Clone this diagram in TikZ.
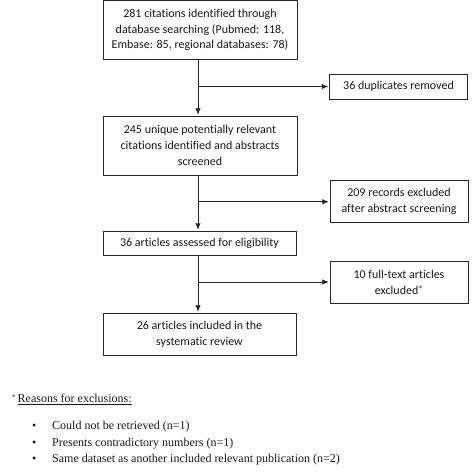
\documentclass[tikz,border=0pt]{standalone}
\usepackage{fontspec}
\setmainfont{Liberation Serif}
\newfontfamily\boxfont[Ligatures={NoCommon}]{Carlito}
\usetikzlibrary{arrows.meta}
\begin{document}
\begin{tikzpicture}[x=1pt,y=-1pt,
  flowbox/.style={draw=black!85, line width=0.9pt, inner sep=0pt, align=center,
    font=\boxfont\fontsize{12}{15.8}\selectfont, text=black!90},
  arr/.style={draw=black!85, line width=0.8pt, -{Latex[length=6.5pt,width=5.5pt]}, shorten >=0.8pt},
  foot/.style={anchor=west, inner sep=0pt, font=\fontsize{12}{14}\selectfont, text=black!90}]
\useasboundingbox (0,0) rectangle (474,474);
\fill[white] (0,0) rectangle (474,474);
\node[flowbox, minimum width=194pt, minimum height=59pt] (b1) at (200,30)
  {281 citations identified through\\database searching (Pubmed: 118,\\Embase: 85, regional databases: 78)};
\node[flowbox, minimum width=194pt, minimum height=59pt] (b2) at (200,145.5)
  {245 unique potentially relevant\\citations identified and abstracts\\screened};
\node[flowbox, minimum width=138pt, minimum height=25pt] (dup) at (398.5,86.5)
  {36 duplicates removed};
\node[flowbox, minimum width=138pt, minimum height=42pt] (rec) at (399,201.7)
  {209 records excluded\\after abstract screening};
\node[flowbox, minimum width=193pt, minimum height=24pt] (b3) at (199.5,243)
  {36 articles assessed for eligibility};
\node[flowbox, minimum width=138pt, minimum height=42pt] (full) at (399,282)
  {10 full-text articles\\excluded$^{*}$};
\node[flowbox, minimum width=193pt, minimum height=42pt] (b4) at (199.5,334)
  {26 articles included in the\\systematic review};
\coordinate (v) at (198,0);
\draw[arr] (b1.south -| v) -- (b2.north -| v);
\draw[arr] (b2.south -| v) -- (b3.north -| v);
\draw[arr] (b3.south -| v) -- (b4.north -| v);
\draw[arr] (v |- dup.west) -- (dup.west);
\draw[arr] (v |- rec.west) -- (rec.west);
\draw[arr] (v |- full.west) -- (full.west);
\node[foot] (fn) at (12,399) {\raisebox{0.5ex}{\scriptsize *}\,\underline{Reasons for exclusions:}};
\node[foot] (b1d) at (32,427) {\large\textbullet};
\node[foot] (t1) at (52,427) {Could not be retrieved (n=1)};
\node[foot] (b2d) at (32,443.5) {\large\textbullet};
\node[foot] (t2) at (52,443.5) {Presents contradictory numbers (n=1)};
\node[foot] (b3d) at (32,460) {\large\textbullet};
\node[foot] (t3) at (52,460) {Same dataset as another included relevant publication (n=2)};
\end{tikzpicture}
\end{document}
